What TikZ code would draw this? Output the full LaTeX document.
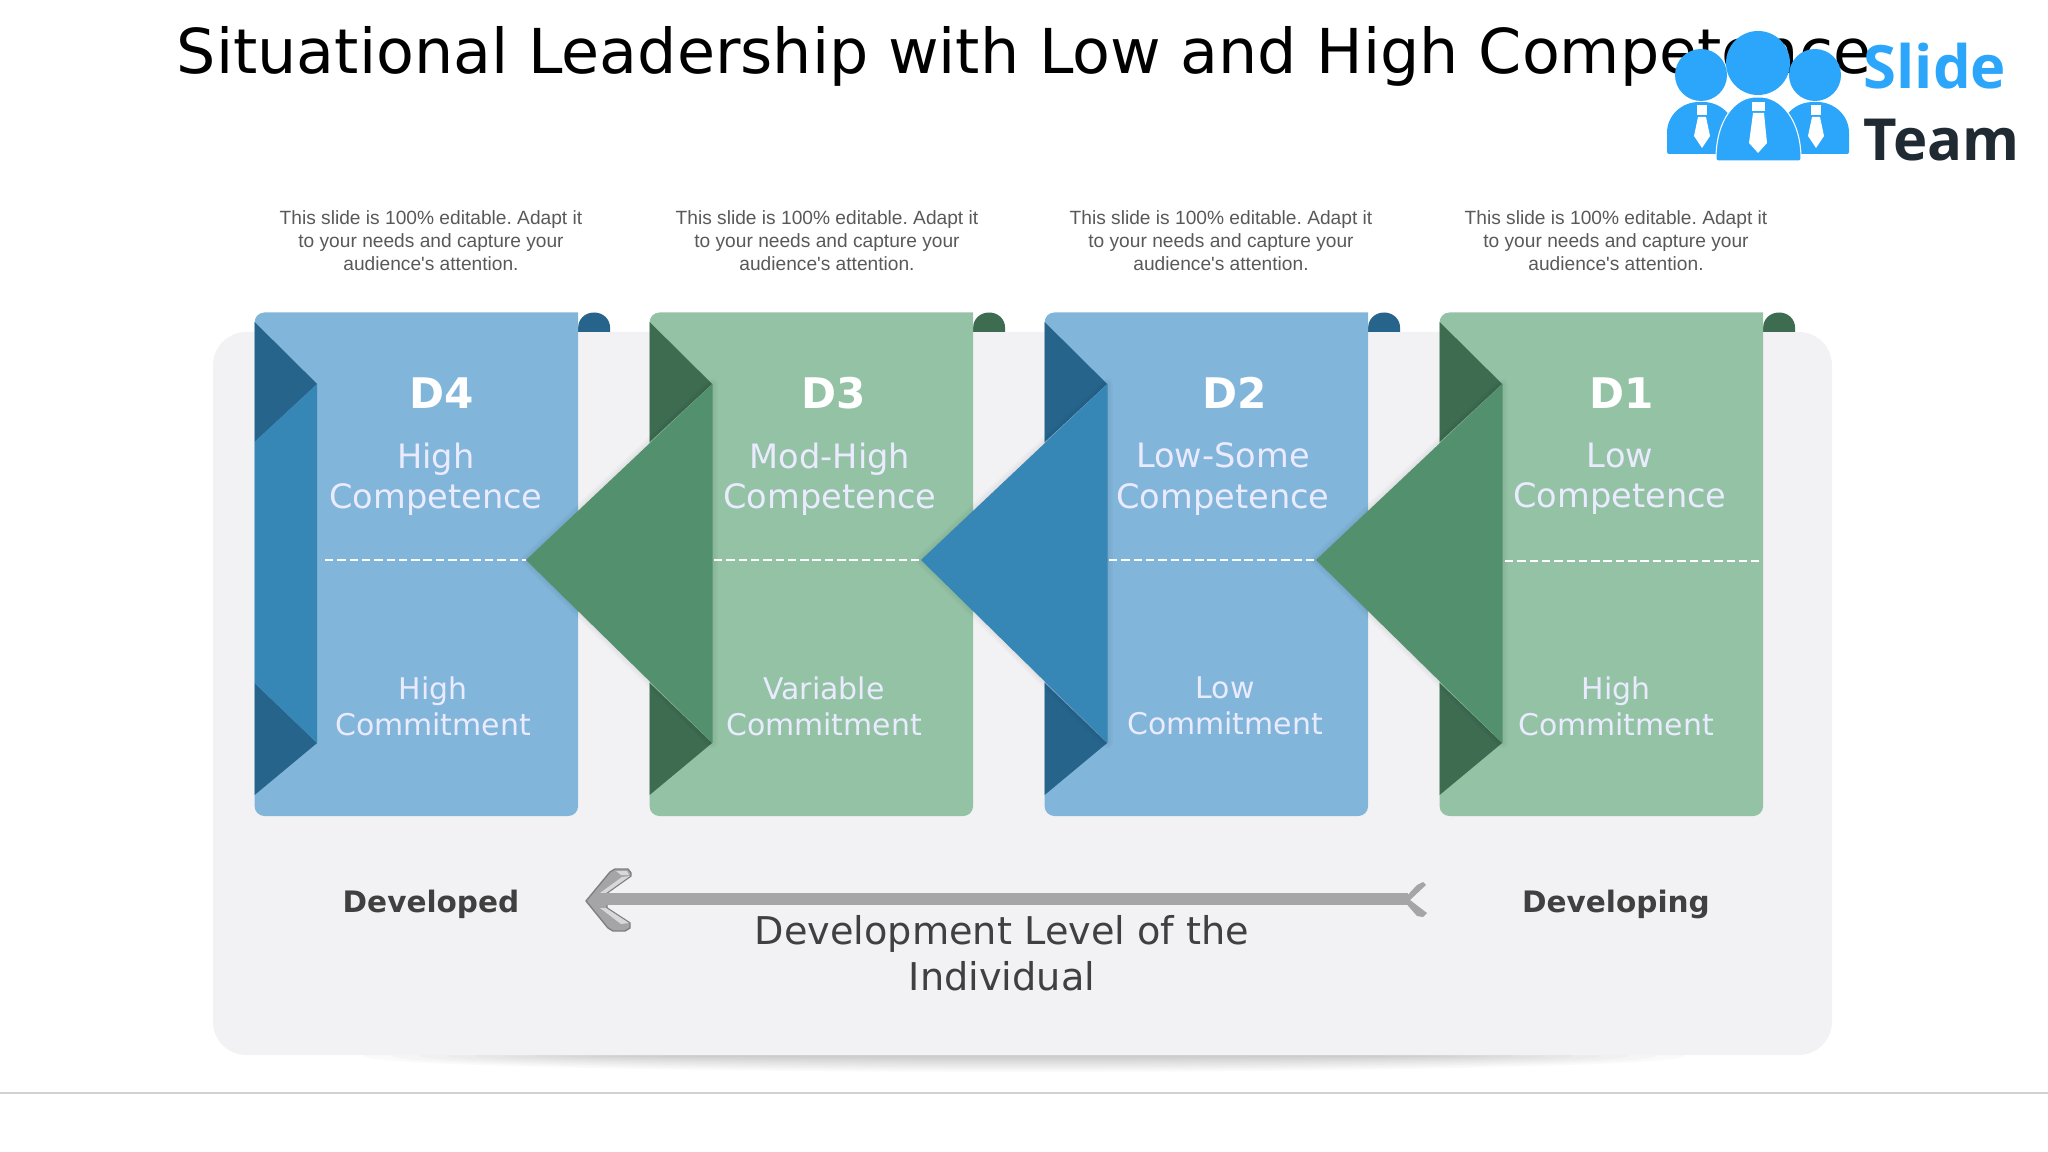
\documentclass[tikz,border=0pt]{standalone}
\usepackage{fontspec}
\setmainfont{DejaVu Sans}
\newfontfamily\capfont{Liberation Sans}
\newfontfamily\logofont{Open Sans}
\usetikzlibrary{positioning,calc}
\definecolor{bluelite}{HTML}{81B5DA}
\definecolor{bluemid}{HTML}{3686B6}
\definecolor{bluedark}{HTML}{26648C}
\definecolor{greenlite}{HTML}{93C2A5}
\definecolor{greenmid}{HTML}{53906D}
\definecolor{greendark}{HTML}{3D6C51}
\definecolor{panelgray}{HTML}{F2F2F4}
\definecolor{logoblue}{HTML}{2BA6FB}
\definecolor{logodark}{HTML}{1F2A33}
\definecolor{arrowgray}{HTML}{A5A4A7}
\definecolor{arrowedge}{HTML}{807F82}
\definecolor{arrowlite}{HTML}{D8D8DA}
\begin{document}
\frenchspacing
\begin{tikzpicture}[
		x=0.01cm, y=-0.01cm,
		titletxt/.style={inner sep=0pt, black, font=\fontsize{17.6}{20}\selectfont},
		captxt/.style={inner sep=0pt, align=center, text=black!65, font=\capfont\fontsize{5.45}{6.5}\selectfont},
		headtxt/.style={inner sep=0pt, white, font=\fontsize{12}{14}\bfseries\selectfont},
		comptxt/.style={inner sep=0pt, align=center, text=white!92!blue, font=\fontsize{9.55}{11.4}\selectfont, execute at begin node=\vphantom{Hg}},
		committxt/.style={inner sep=0pt, align=center, text=white!92!blue, font=\fontsize{8.5}{10.2}\selectfont, execute at begin node=\vphantom{Hg}},
		sidetxt/.style={inner sep=0pt, text=black!75, font=\fontsize{8.4}{10}\bfseries\selectfont},
		devtxt/.style={inner sep=0pt, align=center, text=black!75, font=\fontsize{10.87}{13.2}\selectfont},
		dashline/.style={white, line width=0.8pt, dash pattern=on 2.4pt off 1.1pt},
		tiefill/.style={fill=white, draw=none}]
	\path[fill=white] (0,0) rectangle (2048,1152);
	\useasboundingbox (0,0) rectangle (2048,1152);
	% title comes first, the logo sits on it
	\node (title) [titletxt] at (1024,56) {Situational Leadership with Low and High Competence};
	% panel and its soft shadow
	\foreach \r in {2,4,...,20}
		\fill[black, opacity=0.02] (1024,1056) ellipse ({380+\r*14} and {\r*0.8});
	\fill[panelgray, rounded corners=9.5pt] (213,332) rectangle (1832,1055);
	\draw[black!18, line width=0.3pt] (0,1093) -- (2048,1093);
	% cards
	\foreach \x/\lite/\dark in {254.6/bluelite/bluedark, 649.6/greenlite/greendark, 1044.6/bluelite/bluedark, 1439.6/greenlite/greendark}{
		\fill[\dark] (\x+323.5,332) -- (\x+323.5,328) .. controls (\x+323.5,319) and (\x+330.5,312.5) .. (\x+339.5,312.5) .. controls (\x+348.5,312.5) and (\x+355.5,319) .. (\x+355.5,328) -- (\x+355.5,332) -- cycle;
		\fill[\lite, rounded corners=2.8pt] (\x+323.5,312.5) -- (\x+323.5,816) -- (\x,816) -- (\x,312.5) [sharp corners] -- (\x+323.5,312.5) -- cycle;
		\fill[\dark] (\x,322) -- (\x+62.5,384) -- (\x,442) -- cycle;
		\fill[\dark] (\x,683) -- (\x+62.5,743) -- (\x,795) -- cycle;
	}
	\fill[bluemid] (254.6,442) -- (317,384) -- (317,743) -- (254.6,683) -- cycle;
	% folds that point left, over the card before them
	\foreach \x/\mid in {0/greenmid, 395/bluemid, 790/greenmid}{
		\foreach \w in {1,2,3}
			\draw[black, opacity=0.02, line width=\w pt, line join=round] (526+\x,560) -- (712.5+\x,384) -- (712.5+\x,743) -- cycle;
		\fill[\mid] (526+\x,560) -- (712.5+\x,384) -- (712.5+\x,743) -- cycle;
	}
	% dashed rules, each ends on the tip of a fold
	\coordinate (r4a) at (325,560);  \coordinate (r4b) at (526,560);
	\coordinate (r3a) at (714,560);  \coordinate (r3b) at (921,560);
	\coordinate (r2a) at (1109,560); \coordinate (r2b) at (1316,560);
	\coordinate (r1a) at (1505,561); \coordinate (r1b) at (1759,561);
	\draw[dashline] (r4a) -- (r4b) (r3a) -- (r3b) (r2a) -- (r2b) (r1a) -- (r1b);
	% texts
	\path (431,241) node (cap4) [captxt] {This slide is 100\% editable. Adapt it\\to your needs and capture your\\audience's attention.}
		(827,241) node (cap3) [captxt] {This slide is 100\% editable. Adapt it\\to your needs and capture your\\audience's attention.}
		(1221,241) node (cap2) [captxt] {This slide is 100\% editable. Adapt it\\to your needs and capture your\\audience's attention.}
		(1616,241) node (cap1) [captxt] {This slide is 100\% editable. Adapt it\\to your needs and capture your\\audience's attention.};
	\path (442,393) node (d4) [headtxt] {D4}
		(834,393) node (d3) [headtxt] {D3}
		(1235,393) node (d2) [headtxt] {D2}
		(1622,393) node (d1) [headtxt] {D1};
	\path (436,479) node (comp4) [comptxt] {High\\Competence}
		(830,479) node (comp3) [comptxt] {Mod-High\\Competence}
		(1223,479) node (comp2) [comptxt] {Low-Some\\Competence}
		(1620,479) node (comp1) [comptxt] {Low\\Competence};
	\path (433,709) node (comm4) [committxt] {High\\Commitment}
		(824,709) node (comm3) [committxt] {Variable\\Commitment}
		(1225,709) node (comm2) [committxt] {Low\\Commitment}
		(1616,709) node (comm1) [committxt] {High\\Commitment};
	\path (431,904) node (devd) [sidetxt] {Developed}
		(1616,904) node (devg) [sidetxt] {Developing}
		(1002,953) node (level) [devtxt] {Development Level of the\\Individual};
	% long arrow, the head has a bevel
	\coordinate (atip) at (600,899);
	\coordinate (atail) at (1408,899);
	\fill[arrowgray, draw=arrowedge, line width=0.4pt, line join=round] (586,901) -- (610,872) -- (615,869) -- (628,869) -- (631,873) -- (631,876) -- (607,893) -- (607,908) -- (630,923) -- (630,928) -- (625,931) -- (613,931) -- (608,928) -- cycle;
	\fill[arrowlite] (622,877) -- (630,876) -- (606,893) -- (600,893) -- cycle;
	\fill[arrowlite] (600,908) -- (606,908) -- (629,923) -- (621,924) -- cycle;
	\fill[arrowlite] (616,871) -- (627,871) -- (629,875) -- (621,875) -- cycle;
	\draw[arrowgray, line width=3.4pt] (atip) -- (atail);
	\fill[arrowgray] (1403,900) -- (1417,885) -- (1423,882) -- (1426,885) -- (1410,900) -- (1427,913) -- (1423,917) -- (1417,916) -- cycle;
	% logo
	\fill[logoblue] (1701,75) circle (26) (1815,75) circle (26);
	\fill[logoblue, rounded corners=0.6pt] (1667,154) -- (1667,135) .. controls (1667,115) and (1682,102) .. (1701,102) .. controls (1720,102) and (1735,115) .. (1735,135) -- (1735,154) -- cycle;
	\fill[logoblue, rounded corners=0.6pt] (1781,154) -- (1781,135) .. controls (1781,115) and (1796,102) .. (1815,102) .. controls (1834,102) and (1849,115) .. (1849,135) -- (1849,154) -- cycle;
	\fill[logoblue] (1758,63) circle (32);
	\fill[logoblue, draw=white, line width=0.3pt, rounded corners=0.6pt] (1716,161) .. controls (1716,120) and (1735,97) .. (1758,97) .. controls (1781,97) and (1801,120) .. (1801,161) -- cycle;
	\foreach \t in {1702,1816}{
		\path[tiefill] (\t-5,105) rectangle (\t+5,115);
		\path[tiefill] (\t-4,117) -- (\t+4,117) -- (\t+8,136) -- (\t,148) -- (\t-8,136) -- cycle;
	}
	\path[tiefill] (1752,102) rectangle (1765,111);
	\path[tiefill] (1753,113) -- (1764,113) -- (1767,143) -- (1758,153) -- (1749,143) -- cycle;
	\node (slide) [inner sep=0pt, anchor=base west, logoblue, font=\logofont\fontsize{17}{20}\bfseries\selectfont] at (1863,89) {Slide};
	\node (team) [inner sep=0pt, anchor=base west, logodark, font=\logofont\fontsize{16.5}{20}\bfseries\selectfont] at (1863,161) {Team};
\end{tikzpicture}
\end{document}
